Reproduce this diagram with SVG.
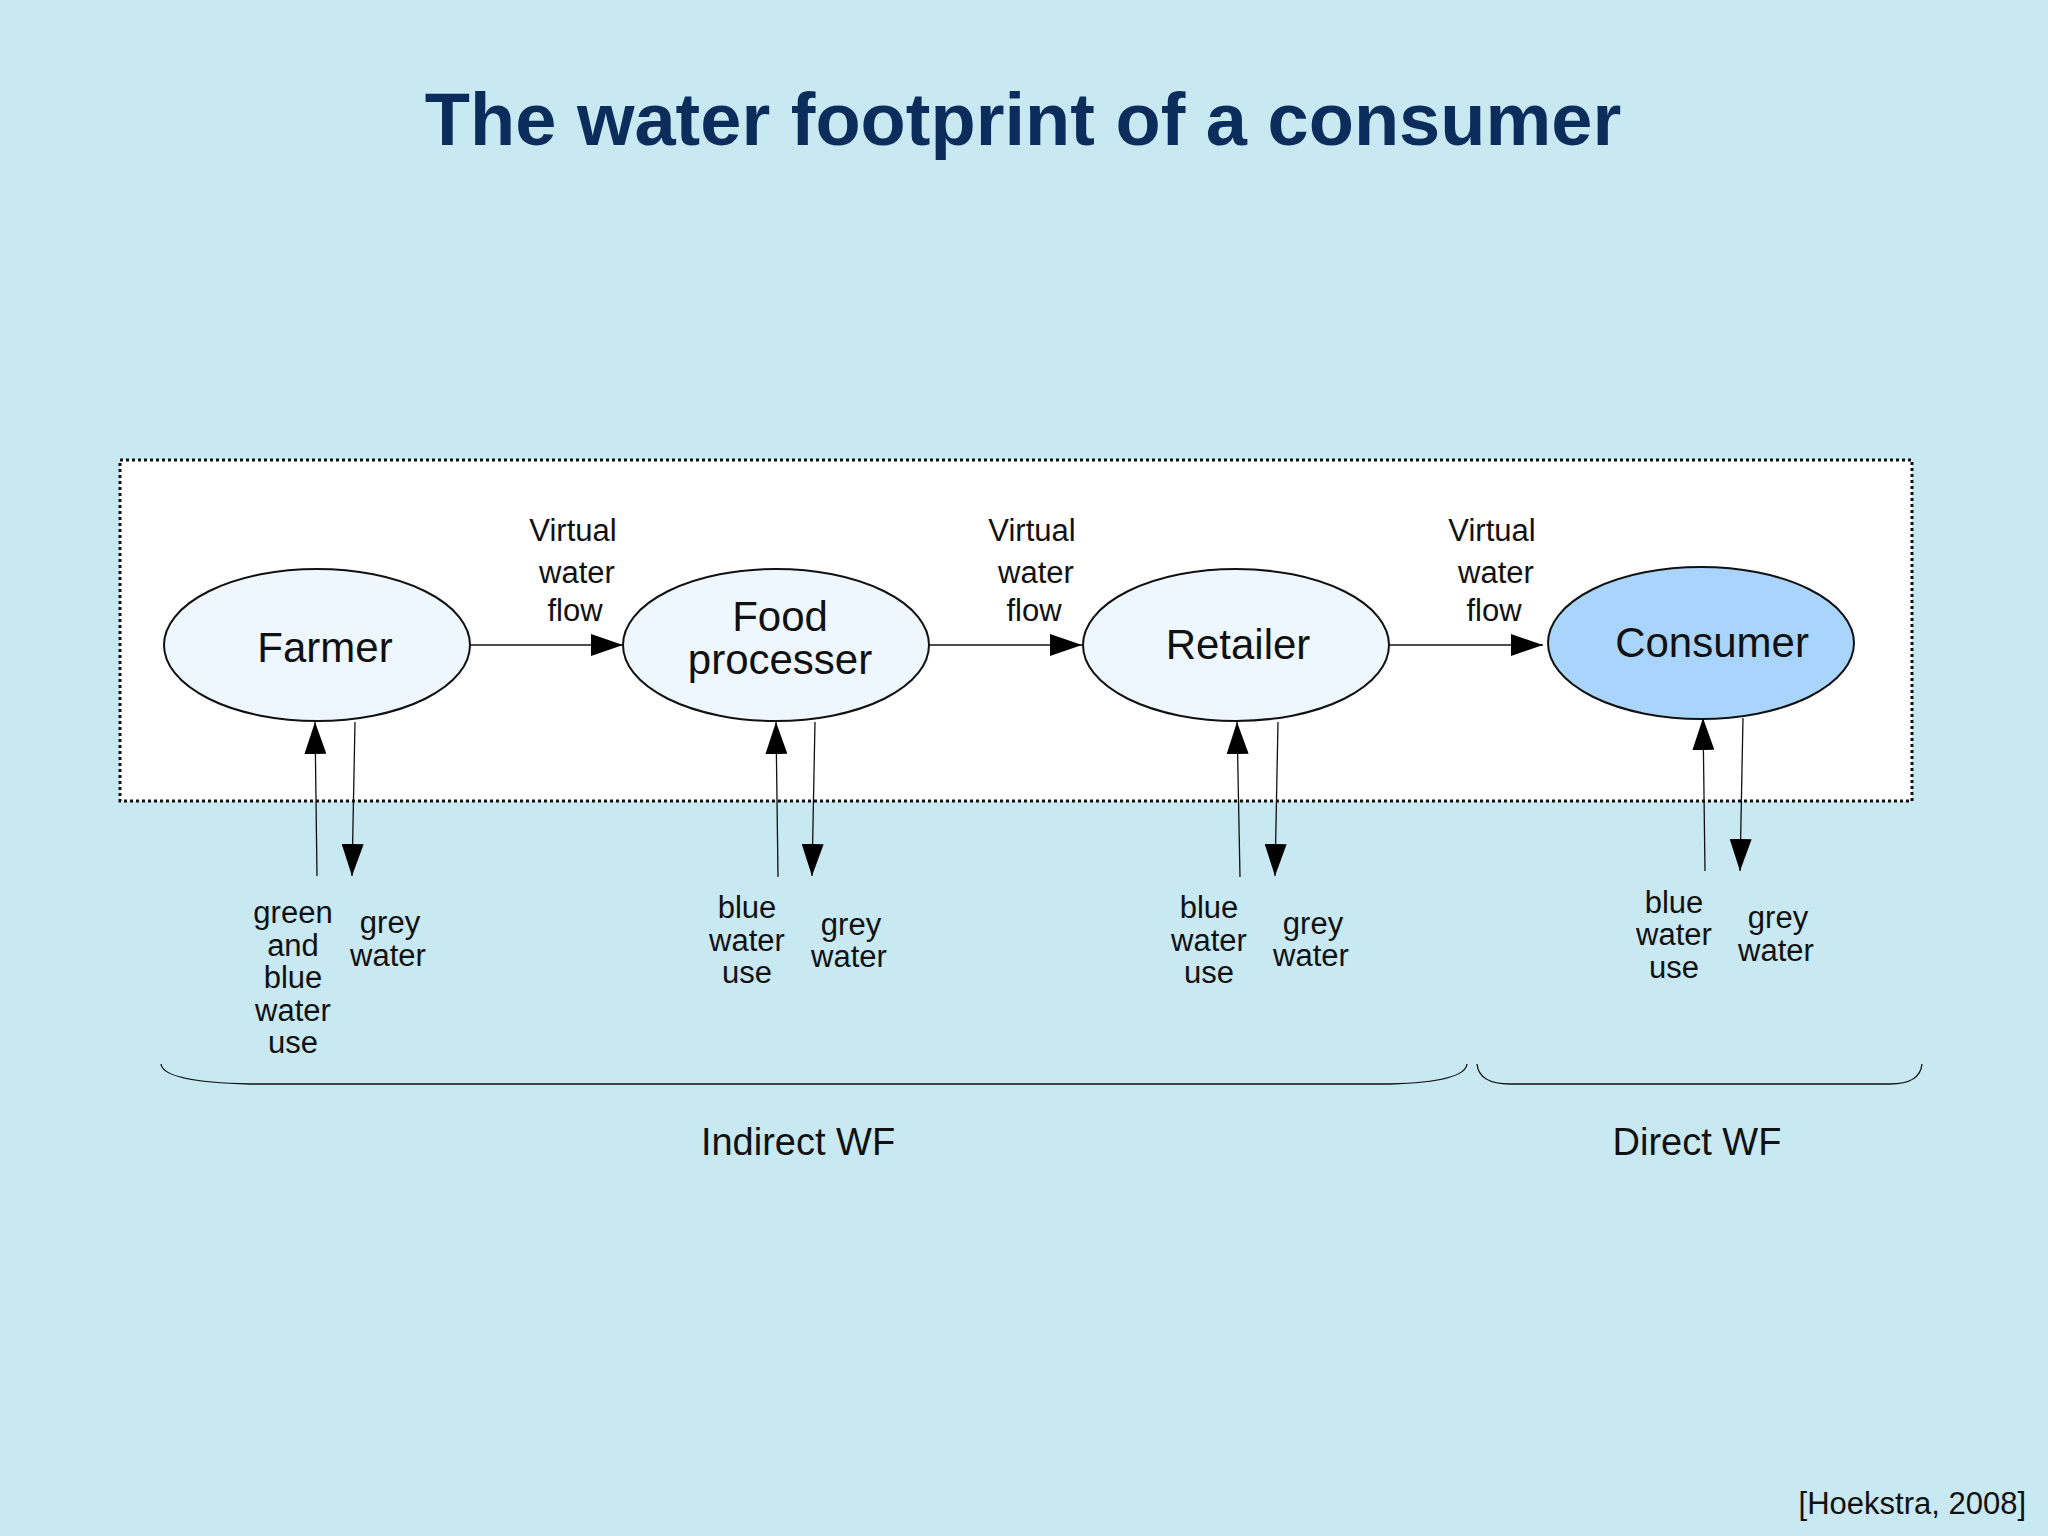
<svg xmlns="http://www.w3.org/2000/svg" width="2048" height="1536" viewBox="0 0 2048 1536">
<style>
text{font-family:"Liberation Sans",Arial,sans-serif;fill:#111;text-anchor:middle}
.t{font-size:31px}
.n{font-size:42px}
.b{font-size:38px}
.e{stroke:#111;stroke-width:2;fill:#eef7fd}
.c{stroke:#111;stroke-width:1.3;fill:none}
</style>
<defs><marker id="a" markerWidth="32" markerHeight="22" refX="32" refY="11" orient="auto" markerUnits="userSpaceOnUse"><path d="M0,0L32,11L0,22z" fill="#000"/></marker></defs>
<rect width="2048" height="1536" fill="#c8e8f2"/>
<text x="1023" y="145" style="font-size:74px;font-weight:bold;fill:#0b2d5b">The water footprint of a consumer</text>
<rect x="120" y="460" width="1792" height="341" fill="#fff" stroke="#111" stroke-width="3" stroke-dasharray="3,3"/>
<g id="farmer"><ellipse class="e" cx="317" cy="645" rx="153" ry="76"/><text class="n" x="325" y="662">Farmer</text></g>
<g id="food"><ellipse class="e" cx="776" cy="645" rx="153" ry="76"/><text class="n" x="780" y="631">Food</text><text class="n" x="780" y="674">processer</text></g>
<g id="retailer"><ellipse class="e" cx="1236" cy="645" rx="153" ry="76"/><text class="n" x="1238" y="659">Retailer</text></g>
<g id="consumer"><ellipse class="e" cx="1701" cy="643" rx="153" ry="76" style="fill:#a9d4fb"/><text class="n" x="1712" y="657">Consumer</text></g>
<g id="connectors">
<line class="c" x1="470" y1="645" x2="623" y2="645" marker-end="url(#a)"/>
<line class="c" x1="929" y1="645" x2="1082" y2="645" marker-end="url(#a)"/>
<line class="c" x1="1388" y1="645" x2="1543" y2="645" marker-end="url(#a)"/>
<line class="c" x1="317" y1="876" x2="315" y2="722" marker-end="url(#a)"/>
<line class="c" x1="355" y1="722" x2="352" y2="876" marker-end="url(#a)"/>
<line class="c" x1="778" y1="877" x2="776" y2="722" marker-end="url(#a)"/>
<line class="c" x1="815" y1="722" x2="812" y2="876" marker-end="url(#a)"/>
<line class="c" x1="1240" y1="877" x2="1237" y2="722" marker-end="url(#a)"/>
<line class="c" x1="1278" y1="722" x2="1275" y2="876" marker-end="url(#a)"/>
<line class="c" x1="1705" y1="871" x2="1703" y2="718" marker-end="url(#a)"/>
<line class="c" x1="1743" y1="718" x2="1740" y2="871" marker-end="url(#a)"/>
</g>
<g class="t">
<text class="t" x="573" y="541">Virtual</text><text class="t" x="577" y="583">water</text><text class="t" x="575" y="621">flow</text>
<text class="t" x="1032" y="541">Virtual</text><text class="t" x="1036" y="583">water</text><text class="t" x="1034" y="621">flow</text>
<text class="t" x="1492" y="541">Virtual</text><text class="t" x="1496" y="583">water</text><text class="t" x="1494" y="621">flow</text>
<text class="t" x="293" y="923">green</text><text class="t" x="293" y="956">and</text><text class="t" x="293" y="988">blue</text><text class="t" x="293" y="1021">water</text><text class="t" x="293" y="1053">use</text>
<text class="t" x="390" y="933">grey</text><text class="t" x="388" y="966">water</text>
<text class="t" x="747" y="918">blue</text><text class="t" x="747" y="951">water</text><text class="t" x="747" y="983">use</text>
<text class="t" x="851" y="935">grey</text><text class="t" x="849" y="967">water</text>
<text class="t" x="1209" y="918">blue</text><text class="t" x="1209" y="951">water</text><text class="t" x="1209" y="983">use</text>
<text class="t" x="1313" y="934">grey</text><text class="t" x="1311" y="966">water</text>
<text class="t" x="1674" y="913">blue</text><text class="t" x="1674" y="945">water</text><text class="t" x="1674" y="978">use</text>
<text class="t" x="1778" y="928">grey</text><text class="t" x="1776" y="961">water</text>
</g>
<path class="c" d="M161 1064 Q163 1082 250 1084 L1390 1084 Q1465 1082 1467 1064" stroke-width="2"/>
<path class="c" d="M1477 1064 Q1479 1084 1510 1084 L1890 1084 Q1920 1084 1922 1064" stroke-width="2"/>
<text class="b" x="798" y="1155">Indirect WF</text>
<text class="b" x="1697" y="1155">Direct WF</text>
<text class="t" x="2026" y="1514" style="text-anchor:end">[Hoekstra, 2008]</text>
</svg>
